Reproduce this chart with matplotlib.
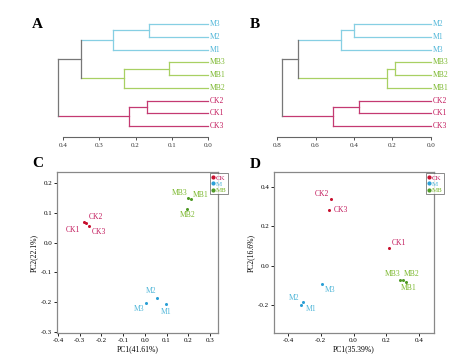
import matplotlib
matplotlib.use("Agg")
import matplotlib.pyplot as plt

plt.rcParams['font.family'] = ['Liberation Serif', 'DejaVu Serif']
plt.rcParams['axes.unicode_minus'] = False

# dendrogram A
a_leaves = ['M3', 'M2', 'M1', 'MB3', 'MB1', 'MB2', 'CK2', 'CK1', 'CK3']
a_merges = [('M3', 'M2', 0.163), ('n0', 'M1', 0.262),
            ('MB3', 'MB1', 0.108), ('n2', 'MB2', 0.232),
            ('n1', 'n3', 0.35),
            ('CK2', 'CK1', 0.168), ('n5', 'CK3', 0.218),
            ('n4', 'n6', 0.414)]
a_ticks = [0.4, 0.3, 0.2, 0.1, 0.0]

# dendrogram B
b_leaves = ['M2', 'M1', 'M3', 'MB3', 'MB2', 'MB1', 'CK2', 'CK1', 'CK3']
b_merges = [('M2', 'M1', 0.40), ('n0', 'M3', 0.47),
            ('MB3', 'MB2', 0.187), ('n2', 'MB1', 0.23),
            ('n1', 'n3', 0.69),
            ('CK2', 'CK1', 0.374), ('n5', 'CK3', 0.51),
            ('n4', 'n6', 0.775)]
b_ticks = [0.8, 0.6, 0.4, 0.2, 0.0]

# PCA C
c_names = ['CK1', 'CK2', 'CK3', 'M1', 'M2', 'M3', 'MB1', 'MB2', 'MB3']
c_pc1 = [-0.28, -0.271, -0.257, 0.098, 0.056, 0.006, 0.213, 0.195, 0.20]
c_pc2 = [0.069, 0.066, 0.056, -0.206, -0.186, -0.203, 0.147, 0.113, 0.150]

# PCA D
d_names = ['CK1', 'CK2', 'CK3', 'M1', 'M2', 'M3', 'MB1', 'MB2', 'MB3']
d_pc1 = [0.218, -0.137, -0.148, -0.32, -0.308, -0.193, 0.322, 0.30, 0.284]
d_pc2 = [0.09, 0.339, 0.283, -0.20, -0.185, -0.093, -0.083, -0.073, -0.073]

line_col = {'CK': '#c43a72', 'M': '#86cfe3', 'MB': '#a8d063'}
text_col = {'CK': '#c2185b', 'M': '#4fb6d8', 'MB': '#7cb82f'}
dot_col = {'CK': '#c8102e', 'M': '#2a9fd6', 'MB': '#4f9a26'}


def group(name):
    if name.startswith('CK'):
        return 'CK'
    if name.startswith('MB'):
        return 'MB'
    return 'M'


W, H = 474, 362
fig = plt.figure(figsize=(W / 100, H / 100), dpi=100)


def box(l, r, t, b):
    return fig.add_axes([l / W, 1 - b / H, (r - l) / W, (b - t) / H])


def draw_tree(ax, leaves, merges, ticks):
    pos = {}
    grp = {}
    for i, name in enumerate(leaves):
        pos[name] = (0.0, i)
        grp[name] = group(name)
    for k, (a, b, h) in enumerate(merges):
        node = 'n%d' % k
        for c in (a, b):
            cx, cy = pos[c]
            col = line_col[grp[c]] if grp[c] else '#777777'
            ax.plot([cx, h], [cy, cy], color=col, lw=0.9, clip_on=False)
        g = grp[a] if grp[a] == grp[b] else None
        col = line_col[g] if g else '#777777'
        ax.plot([h, h], [pos[a][1], pos[b][1]], color=col, lw=0.9, clip_on=False)
        pos[node] = (h, (pos[a][1] + pos[b][1]) / 2)
        grp[node] = g
    for i, name in enumerate(leaves):
        ax.text(-0.01 * ticks[0], i, name, color=text_col[group(name)],
                fontsize=5.5, va='center', ha='left')
    ax.set_xlim(ticks[0], 0)
    ax.set_ylim(8.86, -0.47)
    for s in ['top', 'left', 'right']:
        ax.spines[s].set_visible(False)
    ax.spines['bottom'].set_color('#666666')
    ax.spines['bottom'].set_linewidth(0.8)
    ax.set_yticks([])
    ax.set_xticks(ticks)
    ax.set_xticklabels(['%.1f' % t for t in ticks])
    ax.tick_params(axis='x', labelsize=5, length=2, width=0.6, colors='#333333', pad=2)
    ax.patch.set_alpha(0)


def draw_pca(ax, names, xs, ys, offsets, xlabel, ylabel):
    for n, x, y in zip(names, xs, ys):
        g = group(n)
        ax.plot(x, y, 'o', ms=2.2, color=dot_col[g], mec='none')
        dx, dy, ha = offsets[n]
        ax.annotate(n, (x, y), xytext=(dx, dy), textcoords='offset pixels',
                    ha=ha, va='center', fontsize=5.5, color=text_col[g])
    ax.set_xlabel(xlabel, fontsize=5.5, labelpad=2)
    ax.set_ylabel(ylabel, fontsize=5.5, labelpad=2)
    for s in ax.spines.values():
        s.set_color('#888888')
        s.set_linewidth(0.9)
    ax.tick_params(labelsize=5, length=2, width=0.6, pad=1.5)
    handles = [plt.Line2D([], [], marker='o', ls='', ms=2, color=dot_col[g]) for g in ['CK', 'M', 'MB']]
    leg = ax.legend(handles, ['CK', 'M', 'MB'], loc='upper right', bbox_to_anchor=(1.07, 1.0),
                    fontsize=5, handlelength=0.4, handletextpad=0.2, borderpad=0.2,
                    labelspacing=0.05, frameon=True, fancybox=False, borderaxespad=0.2)
    leg.get_frame().set_edgecolor('#555555')
    leg.get_frame().set_linewidth(0.6)
    for t, g in zip(leg.get_texts(), ['CK', 'M', 'MB']):
        t.set_color(text_col[g])


axA = box(63, 208, 18, 137)
draw_tree(axA, a_leaves, a_merges, a_ticks)
axB = box(277, 431, 18, 137)
draw_tree(axB, b_leaves, b_merges, b_ticks)

c_off = {'CK1': (-4, -8, 'right'), 'CK2': (3, 6, 'left'), 'CK3': (3, -6, 'left'),
         'M2': (-6, 7, 'center'), 'M3': (-2, -6, 'right'), 'M1': (0, -8, 'center'),
         'MB3': (-1, 5, 'right'), 'MB1': (2, 4, 'left'), 'MB2': (0, -6, 'center')}
axC = box(57, 218, 172, 333)
draw_pca(axC, c_names, c_pc1, c_pc2, c_off, 'PC1(41.61%)', 'PC2(22.1%)')
axC.set_xlim(-0.405, 0.337)
axC.set_ylim(-0.303, 0.237)
axC.set_xticks([-0.4, -0.3, -0.2, -0.1, 0.0, 0.1, 0.2, 0.3])
axC.set_yticks([-0.3, -0.2, -0.1, 0.0, 0.1, 0.2])

d_off = {'CK2': (-2, 5, 'right'), 'CK3': (4, 0, 'left'), 'CK1': (2, 5, 'left'),
         'M3': (3, -6, 'left'), 'M2': (-4, 4, 'right'), 'M1': (5, -4, 'left'),
         'MB3': (0, 6, 'right'), 'MB2': (1, 6, 'left'), 'MB1': (2, -6, 'center')}
axD = box(274, 434, 172, 333)
draw_pca(axD, d_names, d_pc1, d_pc2, d_off, 'PC1(35.39%)', 'PC2(16.6%)')
axD.set_xlim(-0.485, 0.49)
axD.set_ylim(-0.342, 0.476)
axD.set_xticks([-0.4, -0.2, 0.0, 0.2, 0.4])
axD.set_yticks([-0.2, 0.0, 0.2, 0.4])

for letter, x, y in [('A', 37, 25), ('B', 255, 25), ('C', 38, 164), ('D', 255, 165)]:
    fig.text(x / W, 1 - y / H, letter, fontsize=11, fontweight='bold',
             ha='center', va='center')

fig.savefig('out.png', dpi=100)
